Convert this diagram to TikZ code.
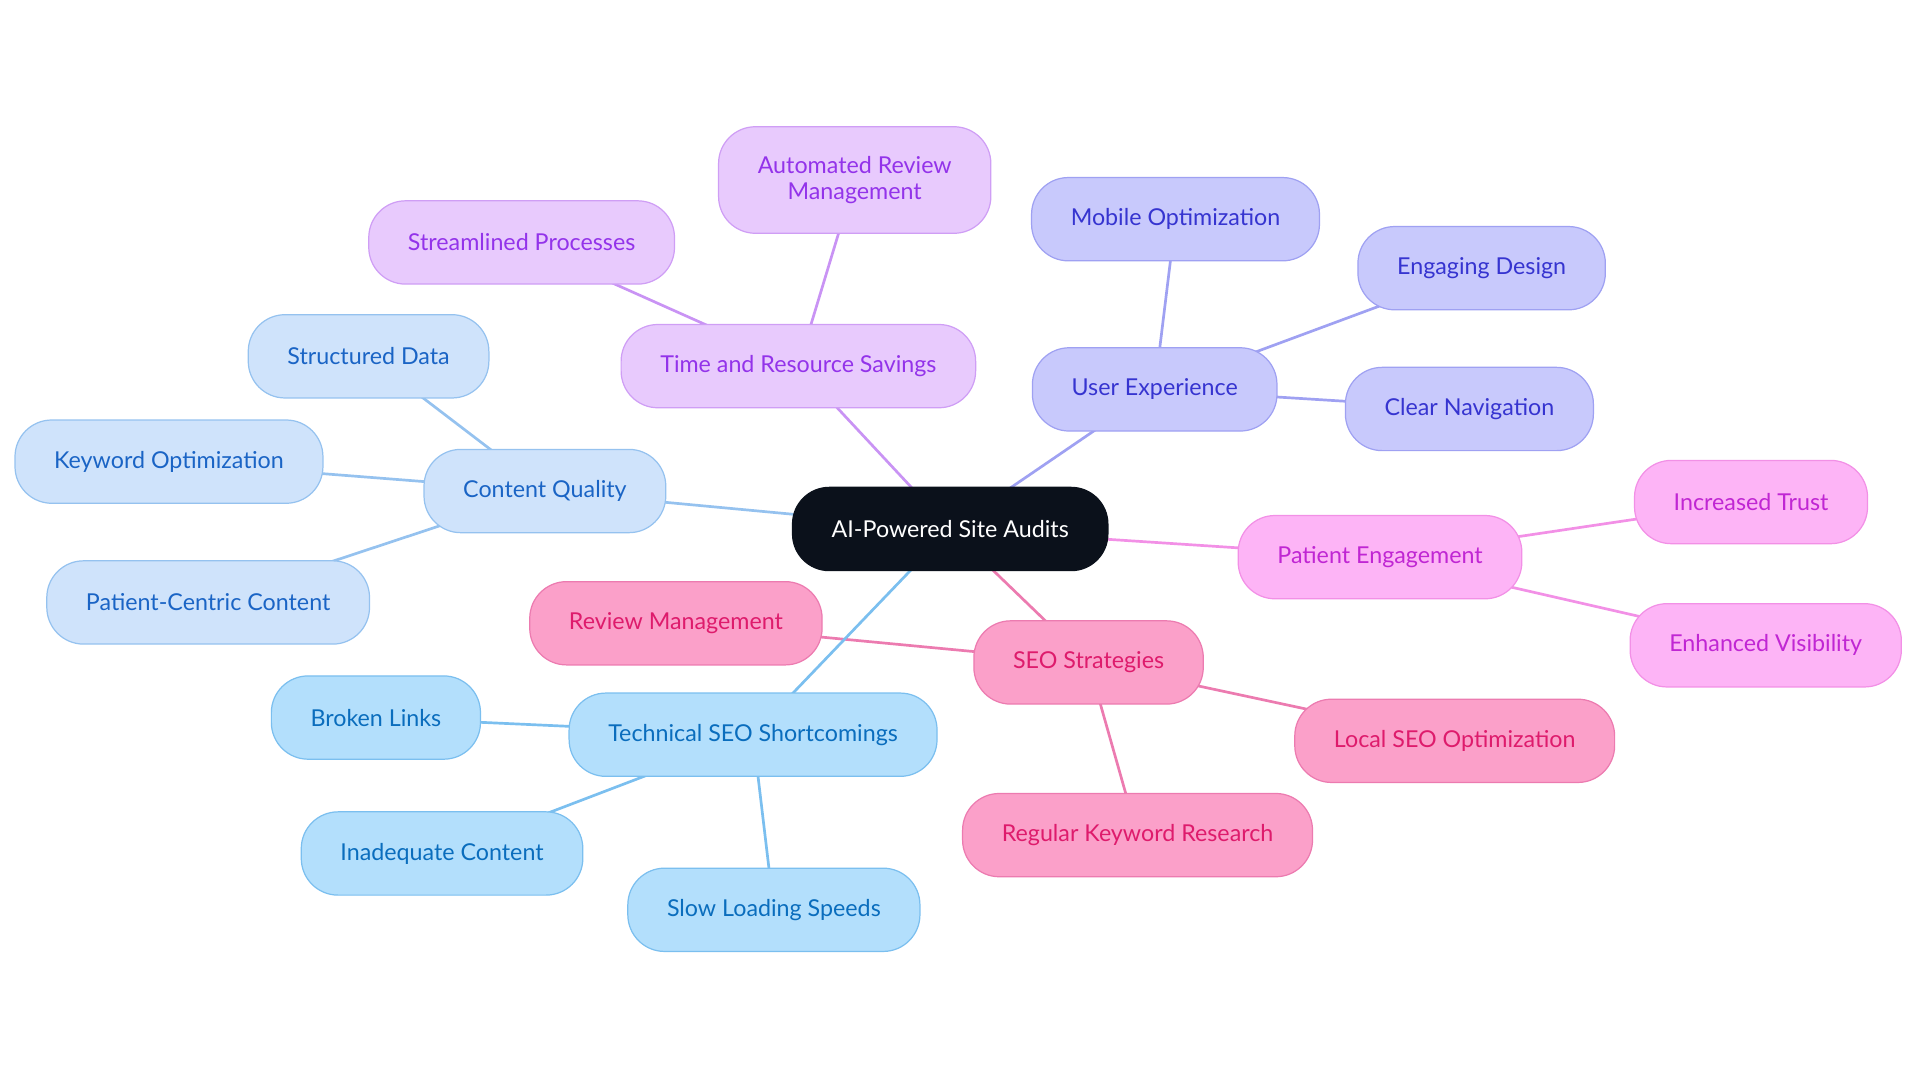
\documentclass[tikz,border=0pt]{standalone}
\usepackage{fontspec}
\setmainfont{Lato}
\usetikzlibrary{backgrounds}
\definecolor{hubfill}{HTML}{0B111B}
\definecolor{tmfill}{HTML}{E8CAFD}\definecolor{tmline}{HTML}{CF9EF5}\definecolor{tmtext}{HTML}{9333EA}
\definecolor{uxfill}{HTML}{C8C9FC}\definecolor{uxline}{HTML}{9FA1F2}\definecolor{uxtext}{HTML}{3634D0}
\definecolor{pefill}{HTML}{FDB4F6}\definecolor{peline}{HTML}{F290E6}\definecolor{petext}{HTML}{C026D3}
\definecolor{sefill}{HTML}{FBA0C9}\definecolor{seline}{HTML}{EC7BB0}\definecolor{setext}{HTML}{DE1B6C}
\definecolor{tsfill}{HTML}{B3DFFC}\definecolor{tsline}{HTML}{7BBFEF}\definecolor{tstext}{HTML}{0A6DBD}
\definecolor{cqfill}{HTML}{CFE3FB}\definecolor{cqline}{HTML}{95C2EF}\definecolor{cqtext}{HTML}{1A64C5}
\begin{document}
\begin{tikzpicture}[x=1pt,y=-1pt,
    bubble/.style={rounded corners=30pt,minimum height=68pt,inner xsep=32pt,
        line width=1pt,align=center,font=\fontsize{19}{21}\selectfont},
    hub/.style={bubble,fill=hubfill,draw=hubfill,text=white},
    tm/.style={bubble,fill=tmfill,draw=tmline,text=tmtext},
    ux/.style={bubble,fill=uxfill,draw=uxline,text=uxtext},
    pe/.style={bubble,fill=pefill,draw=peline,text=petext},
    se/.style={bubble,fill=sefill,draw=seline,text=setext},
    ts/.style={bubble,fill=tsfill,draw=tsline,text=tstext},
    cq/.style={bubble,fill=cqfill,draw=cqline,text=cqtext},
    link/.style={line width=2.2pt}]
    \useasboundingbox (0,0) rectangle (1568,884);
    \node[hub] (audits) at (776,432) {AI-Powered Site Audits};
    \node[tm] (savings) at (652,299) {Time and Resource Savings};
    \node[tm,minimum height=87pt] (review) at (698,147) {Automated Review\\Management};
    \node[tm] (streamlined) at (426,198) {Streamlined Processes};
    \node[ux] (ux) at (943,318) {User Experience};
    \node[ux] (mobile) at (960,179) {Mobile Optimization};
    \node[ux] (design) at (1210,219) {Engaging Design};
    \node[ux] (navigation) at (1200,334) {Clear Navigation};
    \node[pe] (engagement) at (1127,455) {Patient Engagement};
    \node[pe] (trust) at (1430,410) {Increased Trust};
    \node[pe] (visibility) at (1442,527) {Enhanced Visibility};
    \node[se] (seo) at (889,541) {SEO Strategies};
    \node[se] (reviewmgmt) at (552,509) {Review Management};
    \node[se] (localseo) at (1188,605) {Local SEO Optimization};
    \node[se] (keywordres) at (929,682) {Regular Keyword Research};
    \node[ts] (technical) at (615,600) {Technical SEO Shortcomings};
    \node[ts] (broken) at (307,586) {Broken Links};
    \node[ts] (inadequate) at (361,697) {Inadequate Content};
    \node[ts] (slow) at (632,743) {Slow Loading Speeds};
    \node[cq] (content) at (445,401) {Content Quality};
    \node[cq] (structured) at (301,291) {Structured Data};
    \node[cq] (keyword) at (138,377) {Keyword Optimization};
    \node[cq] (centric) at (170,492) {Patient-Centric Content};
    \begin{scope}[on background layer]
        \draw[link,tmline!90!tmtext] (audits.center) -- (savings.center);
        \draw[link,tmline!90!tmtext] (savings.center) -- (review.center);
        \draw[link,tmline!90!tmtext] (savings.center) -- (streamlined.center);
        \draw[link,uxline] (audits.center) -- (ux.center);
        \draw[link,uxline] (ux.center) -- (mobile.center);
        \draw[link,uxline] (ux.center) -- (design.center);
        \draw[link,uxline] (ux.center) -- (navigation.center);
        \draw[link,peline] (audits.center) -- (engagement.center);
        \draw[link,peline] (engagement.center) -- (trust.center);
        \draw[link,peline] (engagement.center) -- (visibility.center);
        \draw[link,seline] (audits.center) -- (seo.center);
        \draw[link,seline] (seo.center) -- (reviewmgmt.center);
        \draw[link,seline] (seo.center) -- (localseo.center);
        \draw[link,seline] (seo.center) -- (keywordres.center);
        \draw[link,tsline] (audits.center) -- (technical.center);
        \draw[link,tsline] (technical.center) -- (broken.center);
        \draw[link,tsline] (technical.center) -- (inadequate.center);
        \draw[link,tsline] (technical.center) -- (slow.center);
        \draw[link,cqline] (audits.center) -- (content.center);
        \draw[link,cqline] (content.center) -- (structured.center);
        \draw[link,cqline] (content.center) -- (keyword.center);
        \draw[link,cqline] (content.center) -- (centric.center);
    \end{scope}
\end{tikzpicture}
\end{document}
